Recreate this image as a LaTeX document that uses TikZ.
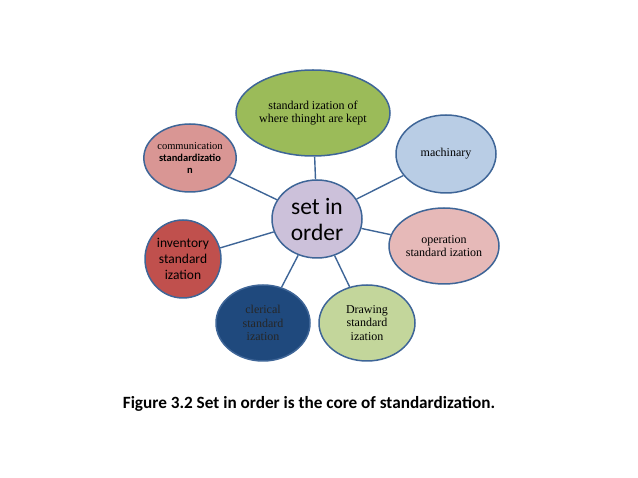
\documentclass[tikz,border=0pt]{standalone}
\usepackage{fontspec}
\setmainfont{Liberation Serif}
\newfontfamily\calib{Carlito}
\usetikzlibrary{shapes.geometric}
\definecolor{edgeblue}{HTML}{3E6597}
\definecolor{cgreen}{HTML}{9BBB59}
\definecolor{cmach}{HTML}{B9CDE5}
\definecolor{ccomm}{HTML}{D99694}
\definecolor{ccenter}{HTML}{CCC1DA}
\definecolor{coper}{HTML}{E6B9B8}
\definecolor{cinv}{HTML}{C0504D}
\definecolor{ccler}{HTML}{1F497D}
\definecolor{cdraw}{HTML}{C3D69B}
\tikzset{
  bubble/.style={ellipse, draw=edgeblue, line width=1.5pt, inner sep=0pt, align=center, font=\fontsize{12}{13.5}\selectfont},
  link/.style={draw=edgeblue, line width=1.4pt}
}
\begin{document}
\begin{tikzpicture}[x=1pt,y=-1pt]
\useasboundingbox (0,0) rectangle (638,478);
\node[bubble, fill=ccenter, minimum width=90pt, minimum height=78pt, font=\calib\fontsize{23.5}{26}\selectfont] (c) at (317,219) {set in\\order};
\node[bubble, fill=cgreen, minimum width=154pt, minimum height=86pt] (top) at (313,113) {standard ization of\\where thinght are kept};
\node[bubble, fill=cmach, minimum width=100pt, minimum height=78pt] (mach) at (446,154) {machinary};
\node[bubble, fill=ccomm, minimum width=88pt, minimum height=68pt, font=\fontsize{10.5}{12}\selectfont] (comm) at (190,158) {communication\\{\calib\bfseries\fontsize{10.5}{12}\selectfont standardizatio}\\{\calib\bfseries\fontsize{10.5}{12}\selectfont n}};
\node[bubble, fill=coper, minimum width=110pt, minimum height=76pt] (oper) at (444,246) {operation\\standard ization};
\node[bubble, fill=cinv, minimum width=76pt, minimum height=78pt, font=\calib\fontsize{13.5}{16}\selectfont] (inv) at (183,259) {inventory\\standard\\ization};
\node[bubble, fill=ccler, minimum width=94pt, minimum height=76pt, text=black!85] (cler) at (263,323) {clerical\\standard\\ization};
\node[bubble, fill=cdraw, minimum width=96pt, minimum height=76pt] (drw) at (367,323) {Drawing\\standard\\ization};
\foreach \n in {top,mach,comm,oper,inv,cler,drw} \draw[link] (c) -- (\n);
\node[font=\calib\bfseries\fontsize{17.2}{20}\selectfont] (cap) at (309,404) {Figure 3.2 Set in order is the core of standardization.};
\end{tikzpicture}
\end{document}
